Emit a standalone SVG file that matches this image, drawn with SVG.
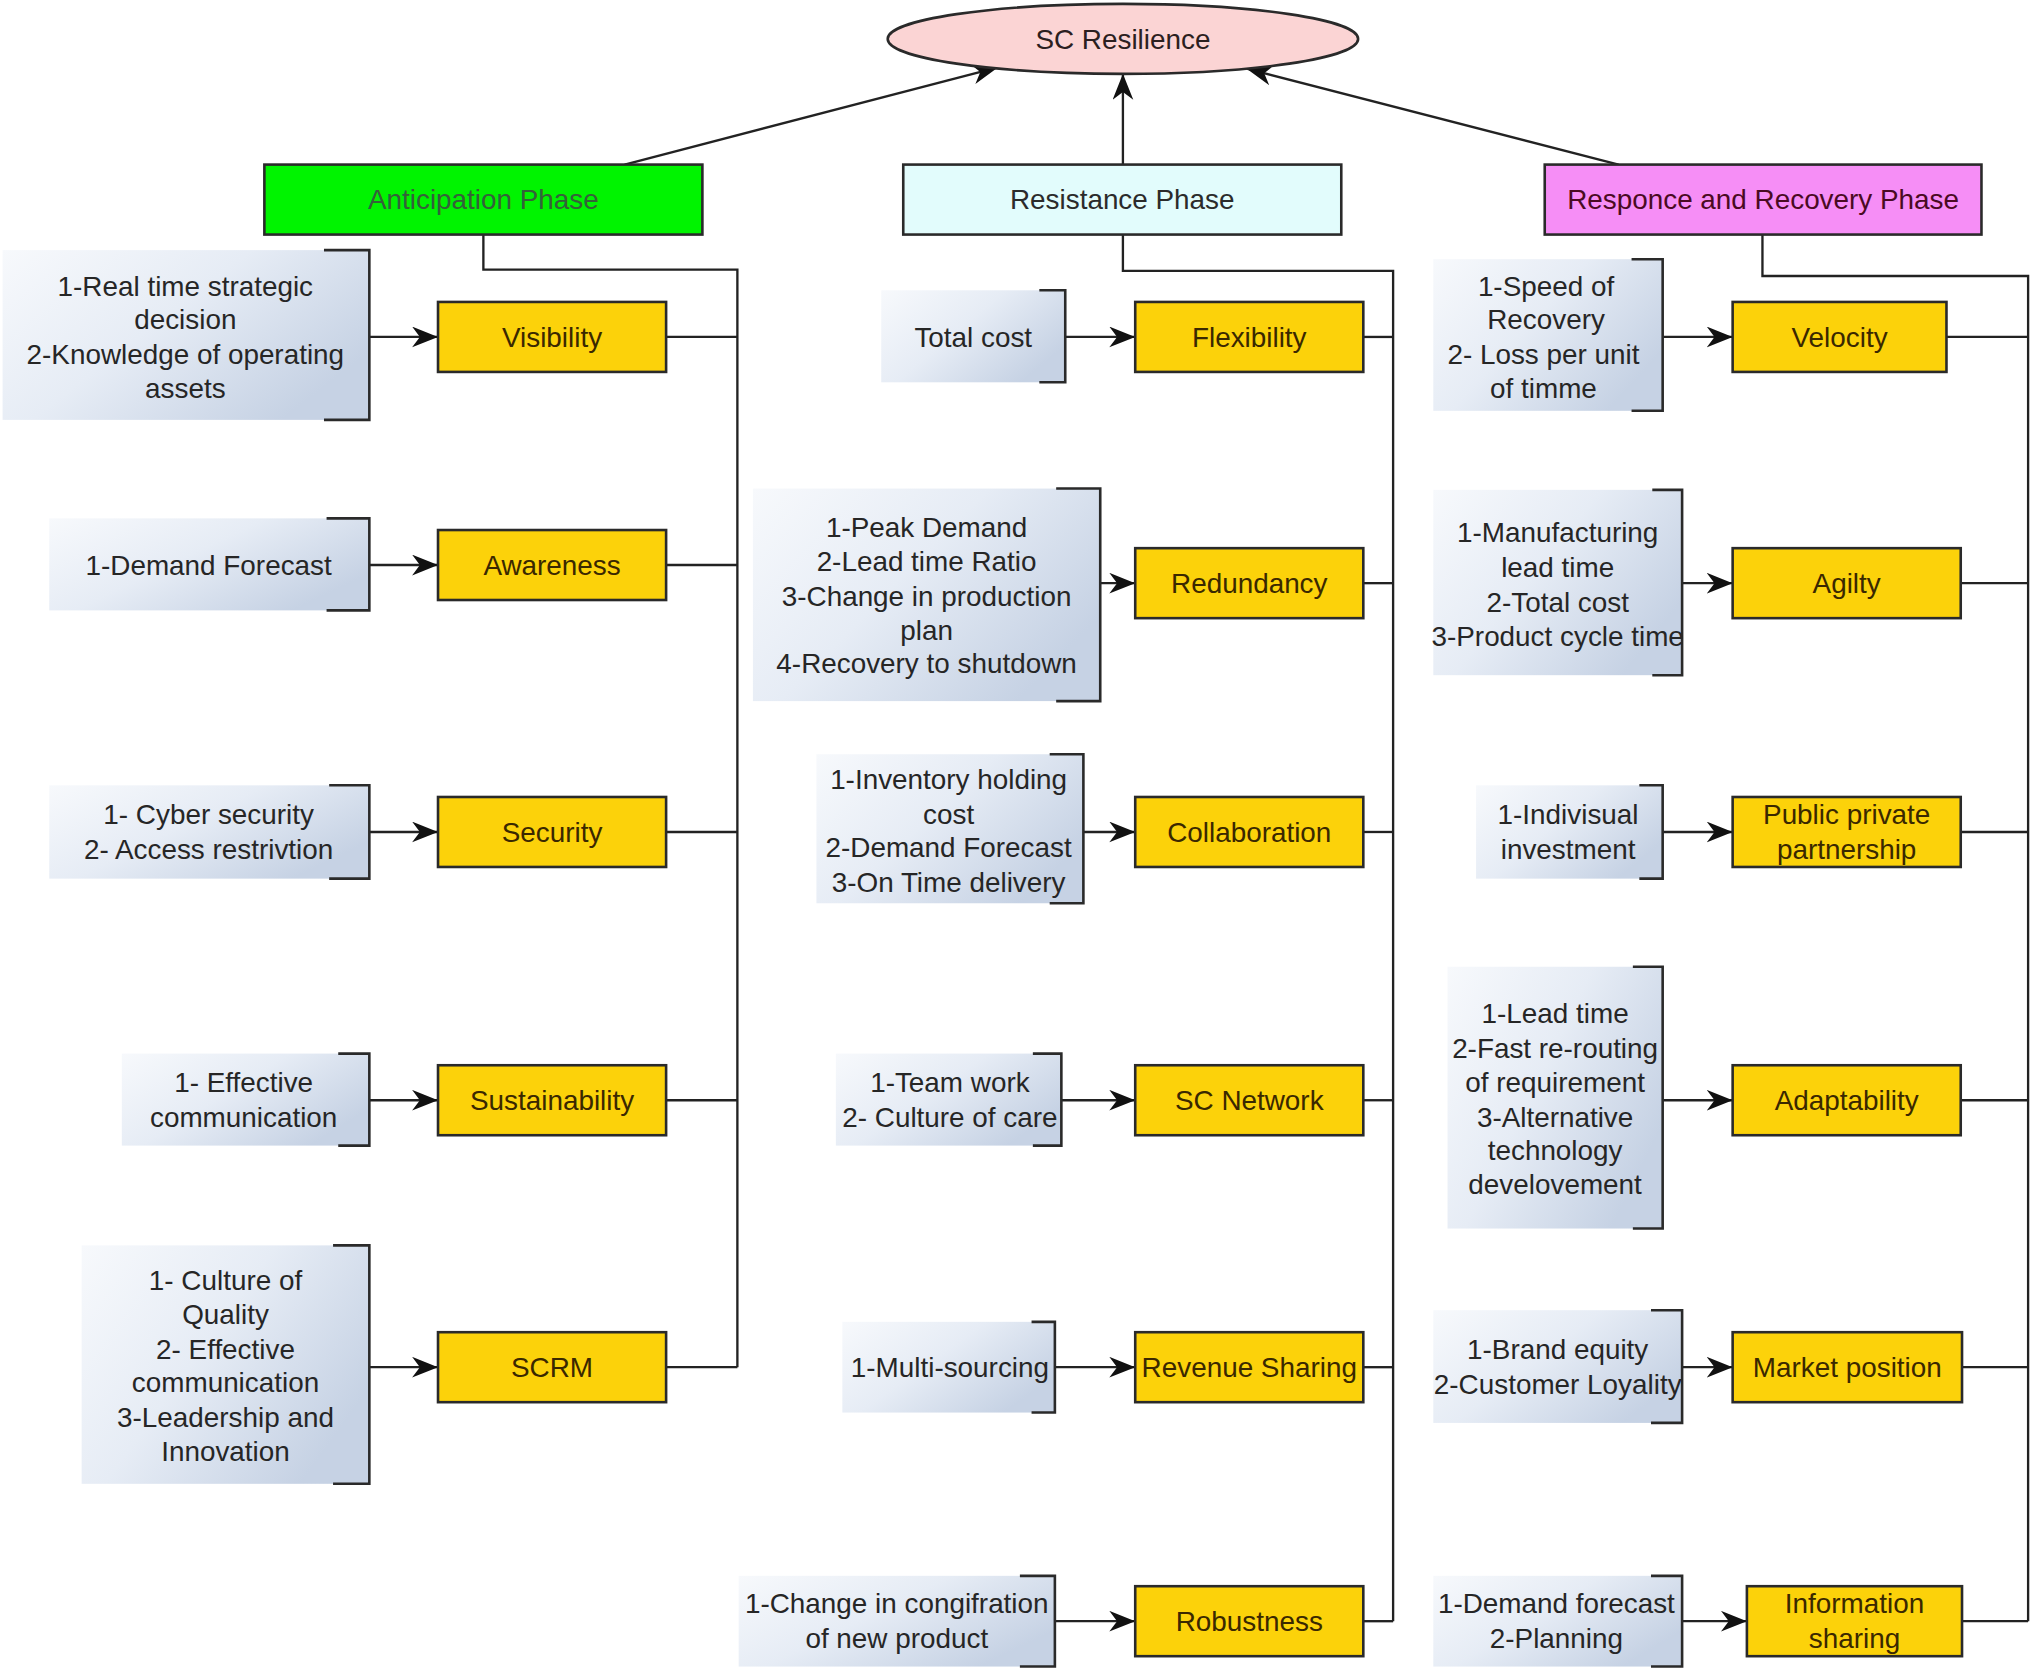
<svg xmlns="http://www.w3.org/2000/svg" width="2032" height="1672" viewBox="0 0 2032 1672">
<style>
  text { font-family: "Liberation Sans", Arial, sans-serif; font-size: 21.5px; text-anchor: middle; }
  .g { fill: url(#gb); stroke: none; }
  .br { fill: none; stroke: #2a2a2a; stroke-width: 2; }
  .gt { fill: #262626; }
  .y { fill: #fcd20a; stroke: #2a2a2a; stroke-width: 2; }
  .yt { fill: #3a2800; }
  .ln { fill: none; stroke: #222; stroke-width: 1.8; }
  .ar { fill: none; stroke: #222; stroke-width: 1.8; marker-end: url(#ah); }
</style>
<defs>
  <linearGradient id="gb" x1="0" y1="0" x2="1" y2="0.6">
    <stop offset="0" stop-color="#f7f9fc"/>
    <stop offset="0.5" stop-color="#e6ecf5"/>
    <stop offset="1" stop-color="#c6d2e4"/>
  </linearGradient>
  <marker id="ah" markerUnits="userSpaceOnUse" markerWidth="21" markerHeight="17" refX="20" refY="8" orient="auto">
    <path d="M0,0 L20,8 L0,16 L6,8 Z" fill="#111"/>
  </marker>
</defs>
<rect width="2032" height="1672" fill="#ffffff"/>
<g transform="scale(1.29592)">

<g id="connectors">
  <line class="ar" x1="482" y1="127" x2="770" y2="52"/>
  <line class="ar" x1="866.5" y1="127" x2="866.5" y2="57"/>
  <line class="ar" x1="1249" y1="127" x2="962" y2="53"/>
  <polyline class="ln" points="373,181 373,208 569,208 569,1055"/>
  <polyline class="ln" points="866.5,181 866.5,209 1075,209 1075,1251"/>
  <polyline class="ln" points="1360,181 1360,213 1565,213 1565,1251"/>
  <line class="ln" x1="514" y1="260" x2="569" y2="260"/>
  <line class="ln" x1="514" y1="436" x2="569" y2="436"/>
  <line class="ln" x1="514" y1="642" x2="569" y2="642"/>
  <line class="ln" x1="514" y1="849" x2="569" y2="849"/>
  <line class="ln" x1="514" y1="1055" x2="569" y2="1055"/>
  <line class="ln" x1="1052" y1="260" x2="1075" y2="260"/>
  <line class="ln" x1="1052" y1="450" x2="1075" y2="450"/>
  <line class="ln" x1="1052" y1="642" x2="1075" y2="642"/>
  <line class="ln" x1="1052" y1="849" x2="1075" y2="849"/>
  <line class="ln" x1="1052" y1="1055" x2="1075" y2="1055"/>
  <line class="ln" x1="1052" y1="1251" x2="1075" y2="1251"/>
  <line class="ln" x1="1502" y1="260" x2="1565" y2="260"/>
  <line class="ln" x1="1513" y1="450" x2="1565" y2="450"/>
  <line class="ln" x1="1513" y1="642" x2="1565" y2="642"/>
  <line class="ln" x1="1513" y1="849" x2="1565" y2="849"/>
  <line class="ln" x1="1514" y1="1055" x2="1565" y2="1055"/>
  <line class="ln" x1="1514" y1="1251" x2="1565" y2="1251"/>
  <line class="ar" x1="285" y1="260" x2="338" y2="260"/>
  <line class="ar" x1="285" y1="436" x2="338" y2="436"/>
  <line class="ar" x1="285" y1="642" x2="338" y2="642"/>
  <line class="ar" x1="285" y1="849" x2="338" y2="849"/>
  <line class="ar" x1="285" y1="1055" x2="338" y2="1055"/>
  <line class="ar" x1="822" y1="260" x2="876" y2="260"/>
  <line class="ar" x1="849" y1="450" x2="876" y2="450"/>
  <line class="ar" x1="836" y1="642" x2="876" y2="642"/>
  <line class="ar" x1="819" y1="849" x2="876" y2="849"/>
  <line class="ar" x1="814" y1="1055" x2="876" y2="1055"/>
  <line class="ar" x1="814" y1="1251" x2="876" y2="1251"/>
  <line class="ar" x1="1283" y1="260" x2="1337" y2="260"/>
  <line class="ar" x1="1298" y1="450" x2="1337" y2="450"/>
  <line class="ar" x1="1283" y1="642" x2="1337" y2="642"/>
  <line class="ar" x1="1283" y1="849" x2="1337" y2="849"/>
  <line class="ar" x1="1298" y1="1055" x2="1337" y2="1055"/>
  <line class="ar" x1="1298" y1="1251" x2="1348" y2="1251"/>
</g>

<g id="sc-resilience">
  <ellipse cx="866.5" cy="30" rx="181.5" ry="27" fill="#fbd4d4" stroke="#2a2a2a" stroke-width="2"/>
  <text x="866.5" y="37.5" fill="#2b2020">SC Resilience</text>
</g>

<g id="anticipation-phase">
  <rect x="204" y="127" width="338" height="54" fill="#00f400" stroke="#2a2a2a" stroke-width="2"/>
  <text x="373" y="161.5" fill="#35613a">Anticipation Phase</text>
</g>
<g id="resistance-phase">
  <rect x="697" y="127" width="338" height="54" fill="#e2fcfc" stroke="#2a2a2a" stroke-width="2"/>
  <text x="866" y="161.5" fill="#2b2b2b">Resistance Phase</text>
</g>
<g id="response-phase">
  <rect x="1192" y="127" width="337" height="54" fill="#f68ef6" stroke="#2a2a2a" stroke-width="2"/>
  <text x="1360.5" y="161.5" fill="#4a0a22">Responce and Recovery Phase</text>
</g>

<!-- Anticipation indicators -->
<g id="ind-visibility">
  <rect class="g" x="2" y="193" width="283" height="131"/>
  <polyline class="br" points="250,193 285,193 285,324 250,324"/>
  <text class="gt"><tspan x="143" y="228.5">1-Real time strategic</tspan><tspan x="143" y="254">decision</tspan><tspan x="143" y="280.5">2-Knowledge of operating</tspan><tspan x="143" y="307">assets</tspan></text>
</g>
<g id="ind-awareness">
  <rect class="g" x="38" y="400" width="247" height="71"/>
  <polyline class="br" points="252,400 285,400 285,471 252,471"/>
  <text class="gt" x="161" y="443.5">1-Demand Forecast</text>
</g>
<g id="ind-security">
  <rect class="g" x="38" y="606" width="247" height="72"/>
  <polyline class="br" points="254,606 285,606 285,678 254,678"/>
  <text class="gt"><tspan x="161" y="635.5">1- Cyber security</tspan><tspan x="161" y="662.5">2- Access restrivtion</tspan></text>
</g>
<g id="ind-sustainability">
  <rect class="g" x="94" y="813" width="191" height="71"/>
  <polyline class="br" points="261,813 285,813 285,884 261,884"/>
  <text class="gt"><tspan x="188" y="842.5">1- Effective</tspan><tspan x="188" y="869.5">communication</tspan></text>
</g>
<g id="ind-scrm">
  <rect class="g" x="63" y="961" width="222" height="184"/>
  <polyline class="br" points="257,961 285,961 285,1145 257,1145"/>
  <text class="gt"><tspan x="174" y="995.5">1- Culture of</tspan><tspan x="174" y="1021.5">Quality</tspan><tspan x="174" y="1048.5">2- Effective</tspan><tspan x="174" y="1074.5">communication</tspan><tspan x="174" y="1101.5">3-Leadership and</tspan><tspan x="174" y="1127.5">Innovation</tspan></text>
</g>

<!-- Anticipation factors -->
<g id="visibility"><rect class="y" x="338" y="233" width="176" height="54"/><text class="yt" x="426" y="267.5">Visibility</text></g>
<g id="awareness"><rect class="y" x="338" y="409" width="176" height="54"/><text class="yt" x="426" y="443.5">Awareness</text></g>
<g id="security"><rect class="y" x="338" y="615" width="176" height="54"/><text class="yt" x="426" y="649.5">Security</text></g>
<g id="sustainability"><rect class="y" x="338" y="822" width="176" height="54"/><text class="yt" x="426" y="856.5">Sustainability</text></g>
<g id="scrm"><rect class="y" x="338" y="1028" width="176" height="54"/><text class="yt" x="426" y="1062.5">SCRM</text></g>

<!-- Resistance indicators -->
<g id="ind-flexibility">
  <rect class="g" x="680" y="224" width="142" height="71"/>
  <polyline class="br" points="802,224 822,224 822,295 802,295"/>
  <text class="gt" x="751" y="267.5">Total cost</text>
</g>
<g id="ind-redundancy">
  <rect class="g" x="581" y="377" width="268" height="164"/>
  <polyline class="br" points="815,377 849,377 849,541 815,541"/>
  <text class="gt"><tspan x="715" y="414.5">1-Peak Demand</tspan><tspan x="715" y="440.5">2-Lead time Ratio</tspan><tspan x="715" y="467.5">3-Change in production</tspan><tspan x="715" y="494">plan</tspan><tspan x="715" y="519.5">4-Recovery to shutdown</tspan></text>
</g>
<g id="ind-collaboration">
  <rect class="g" x="630" y="582" width="206" height="115"/>
  <polyline class="br" points="810,582 836,582 836,697 810,697"/>
  <text class="gt"><tspan x="732" y="608.5">1-Inventory holding</tspan><tspan x="732" y="635.5">cost</tspan><tspan x="732" y="661.5">2-Demand Forecast</tspan><tspan x="732" y="688.5">3-On Time delivery</tspan></text>
</g>
<g id="ind-scnetwork">
  <rect class="g" x="645" y="813" width="174" height="71"/>
  <polyline class="br" points="797,813 819,813 819,884 797,884"/>
  <text class="gt"><tspan x="733" y="842.5">1-Team work</tspan><tspan x="733" y="869.5">2- Culture of care</tspan></text>
</g>
<g id="ind-revenue">
  <rect class="g" x="650" y="1020" width="164" height="70"/>
  <polyline class="br" points="796,1020 814,1020 814,1090 796,1090"/>
  <text class="gt" x="733" y="1062.5">1-Multi-sourcing</text>
</g>
<g id="ind-robustness">
  <rect class="g" x="570" y="1216" width="244" height="70"/>
  <polyline class="br" points="787,1216 814,1216 814,1286 787,1286"/>
  <text class="gt"><tspan x="692" y="1244.5">1-Change in congifration</tspan><tspan x="692" y="1271.5">of new product</tspan></text>
</g>

<!-- Resistance factors -->
<g id="flexibility"><rect class="y" x="876" y="233" width="176" height="54"/><text class="yt" x="964" y="267.5">Flexibility</text></g>
<g id="redundancy"><rect class="y" x="876" y="423" width="176" height="54"/><text class="yt" x="964" y="457.5">Redundancy</text></g>
<g id="collaboration"><rect class="y" x="876" y="615" width="176" height="54"/><text class="yt" x="964" y="649.5">Collaboration</text></g>
<g id="scnetwork"><rect class="y" x="876" y="822" width="176" height="54"/><text class="yt" x="964" y="856.5">SC Network</text></g>
<g id="revenue-sharing"><rect class="y" x="876" y="1028" width="176" height="54"/><text class="yt" x="964" y="1062.5">Revenue Sharing</text></g>
<g id="robustness"><rect class="y" x="876" y="1224" width="176" height="54"/><text class="yt" x="964" y="1258.5">Robustness</text></g>

<!-- Response indicators -->
<g id="ind-velocity">
  <rect class="g" x="1106" y="200" width="177" height="117"/>
  <polyline class="br" points="1259,200 1283,200 1283,317 1259,317"/>
  <text class="gt"><tspan x="1193" y="228.5">1-Speed of</tspan><tspan x="1193" y="253.5">Recovery</tspan><tspan x="1191" y="280.5">2- Loss per unit</tspan><tspan x="1191" y="307.5">of timme</tspan></text>
</g>
<g id="ind-agility">
  <rect class="g" x="1106" y="378" width="192" height="143"/>
  <polyline class="br" points="1275,378 1298,378 1298,521 1275,521"/>
  <text class="gt"><tspan x="1202" y="418.5">1-Manufacturing</tspan><tspan x="1202" y="445.5">lead time</tspan><tspan x="1202" y="472.5">2-Total cost</tspan><tspan x="1202" y="498.5">3-Product cycle time</tspan></text>
</g>
<g id="ind-ppp">
  <rect class="g" x="1139" y="606" width="144" height="72"/>
  <polyline class="br" points="1265,606 1283,606 1283,678 1265,678"/>
  <text class="gt"><tspan x="1210" y="635.5">1-Indivisual</tspan><tspan x="1210" y="662.5">investment</tspan></text>
</g>
<g id="ind-adaptability">
  <rect class="g" x="1117" y="746" width="166" height="202"/>
  <polyline class="br" points="1260,746 1283,746 1283,948 1260,948"/>
  <text class="gt"><tspan x="1200" y="789.5">1-Lead time</tspan><tspan x="1200" y="816.5">2-Fast re-routing</tspan><tspan x="1200" y="842.5">of requirement</tspan><tspan x="1200" y="869.5">3-Alternative</tspan><tspan x="1200" y="895.5">technology</tspan><tspan x="1200" y="921.5">develovement</tspan></text>
</g>
<g id="ind-market">
  <rect class="g" x="1106" y="1011" width="192" height="87"/>
  <polyline class="br" points="1274,1011 1298,1011 1298,1098 1274,1098"/>
  <text class="gt"><tspan x="1202" y="1048.5">1-Brand equity</tspan><tspan x="1202" y="1075.5">2-Customer Loyality</tspan></text>
</g>
<g id="ind-info">
  <rect class="g" x="1106" y="1216" width="192" height="70"/>
  <polyline class="br" points="1274,1216 1298,1216 1298,1286 1274,1286"/>
  <text class="gt"><tspan x="1201" y="1244.5">1-Demand forecast</tspan><tspan x="1201" y="1271.5">2-Planning</tspan></text>
</g>

<!-- Response factors -->
<g id="velocity"><rect class="y" x="1337" y="233" width="165" height="54"/><text class="yt" x="1419.5" y="267.5">Velocity</text></g>
<g id="agility"><rect class="y" x="1337" y="423" width="176" height="54"/><text class="yt" x="1425" y="457.5">Agilty</text></g>
<g id="ppp"><rect class="y" x="1337" y="615" width="176" height="54"/><text class="yt"><tspan x="1425" y="635.5">Public private</tspan><tspan x="1425" y="662.5">partnership</tspan></text></g>
<g id="adaptability"><rect class="y" x="1337" y="822" width="176" height="54"/><text class="yt" x="1425" y="856.5">Adaptability</text></g>
<g id="market-position"><rect class="y" x="1337" y="1028" width="177" height="54"/><text class="yt" x="1425.5" y="1062.5">Market position</text></g>
<g id="information-sharing"><rect class="y" x="1348" y="1224" width="166" height="54"/><text class="yt"><tspan x="1431" y="1244.5">Information</tspan><tspan x="1431" y="1271.5">sharing</tspan></text></g>

</g>
</svg>
